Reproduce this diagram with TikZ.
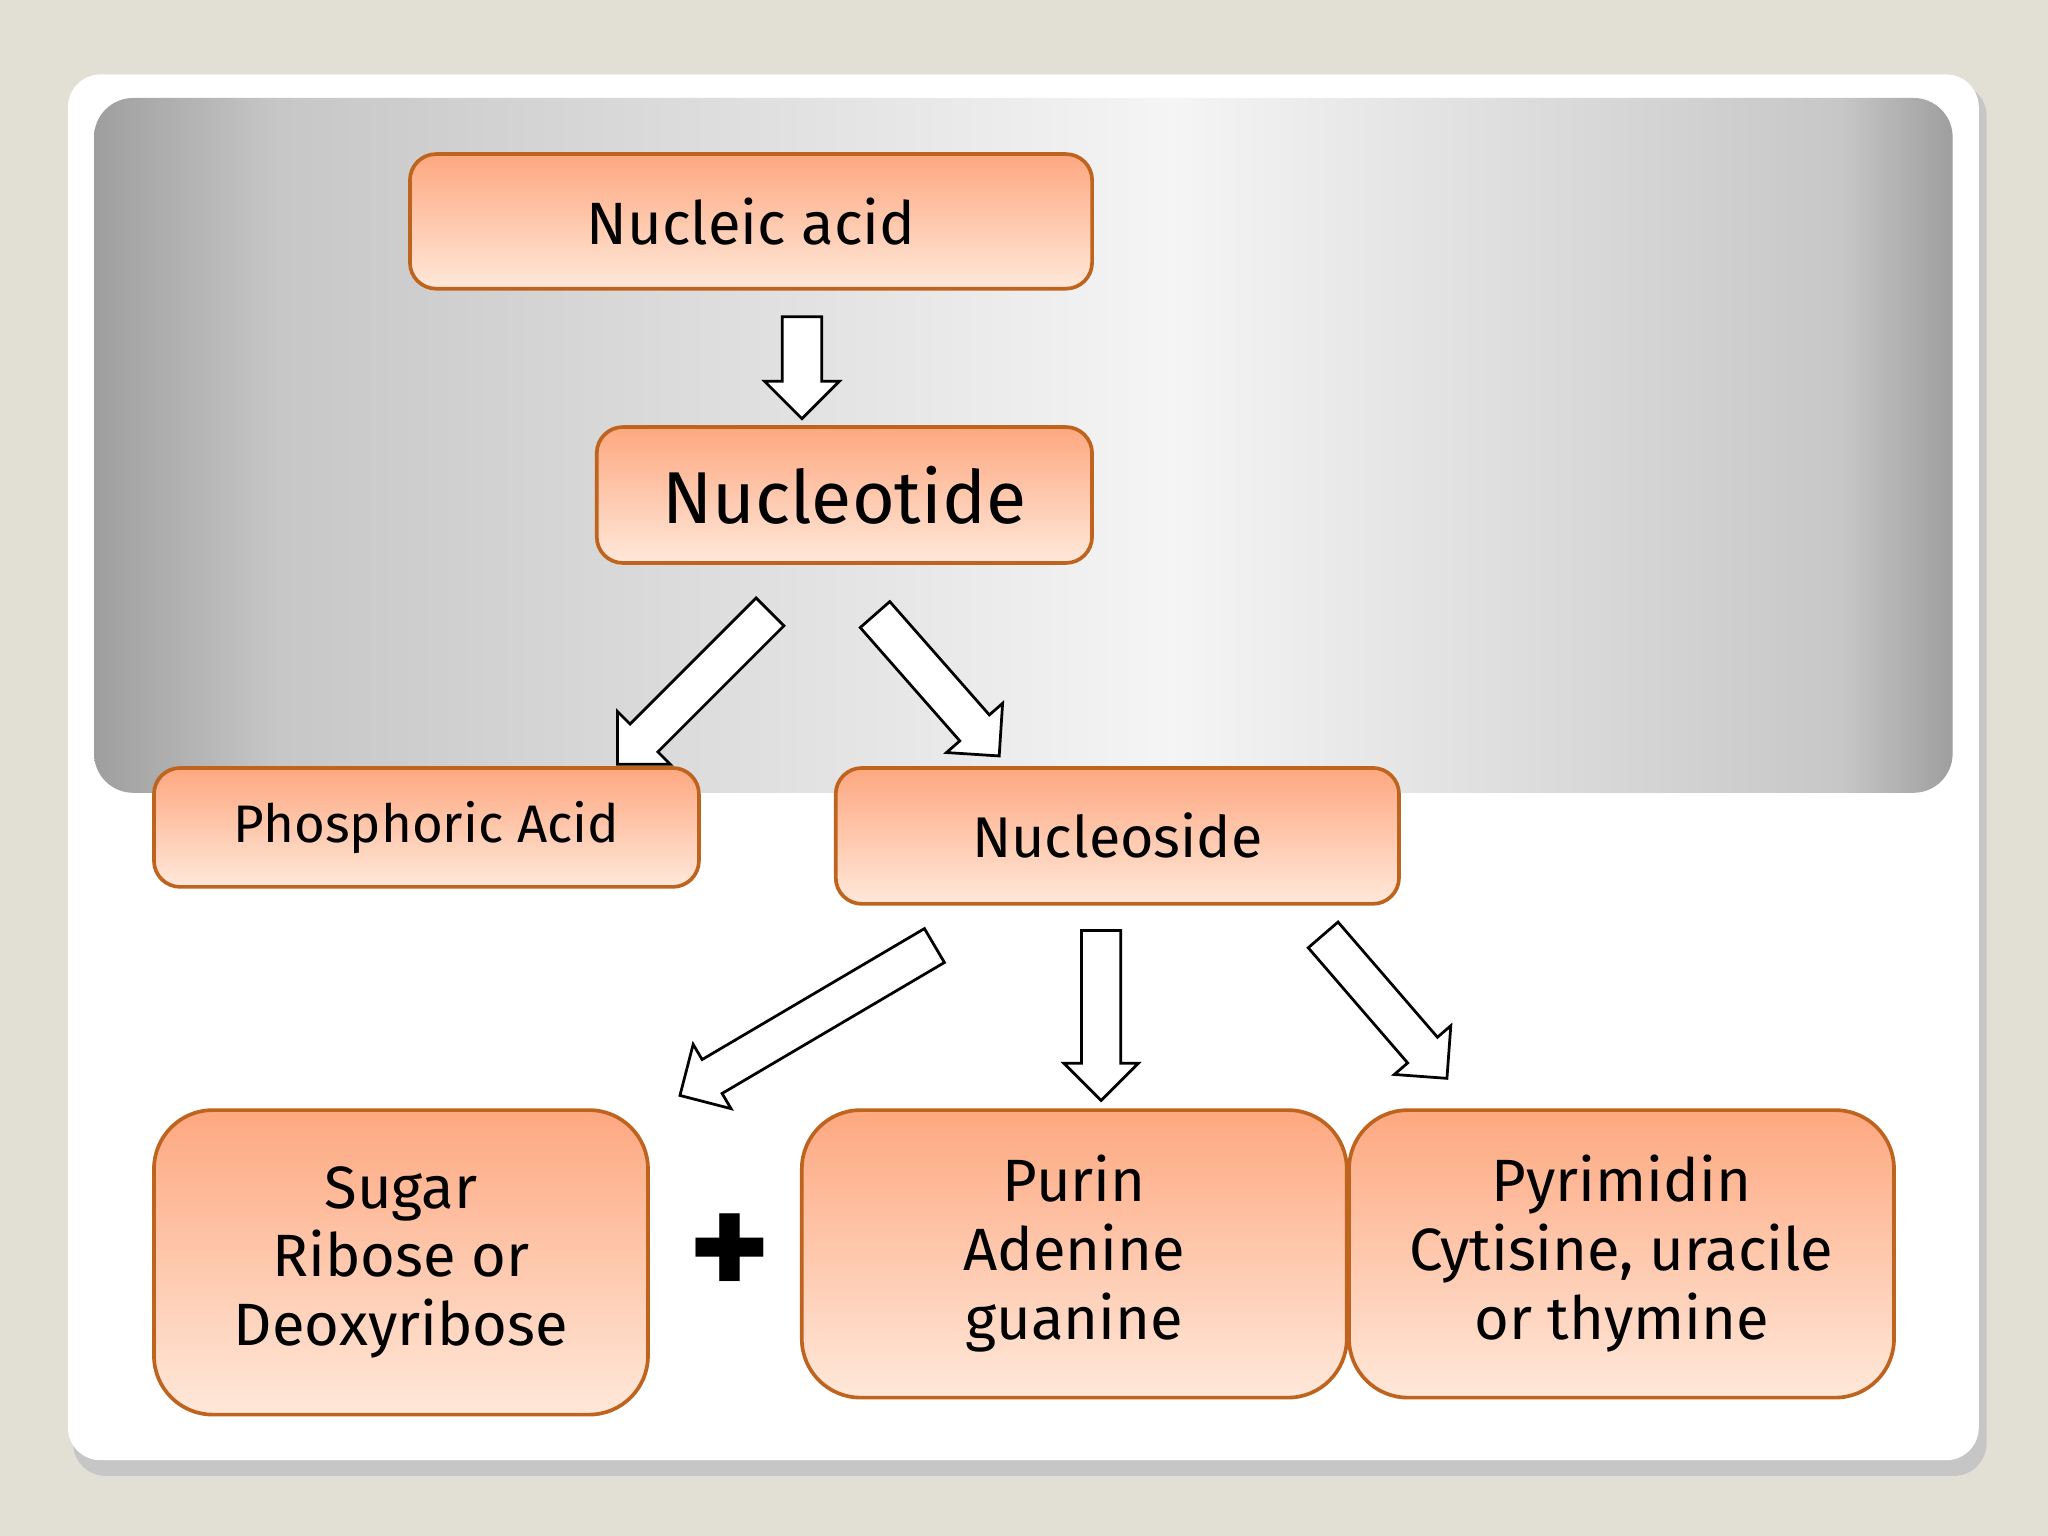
\documentclass[tikz,border=0pt]{standalone}
\usepackage{fontspec}
\setmainfont{Fira Sans}
\usetikzlibrary{shapes.arrows}
\definecolor{page}{RGB}{226,223,212}
\definecolor{boxtop}{RGB}{253,168,128}
\definecolor{boxbottom}{RGB}{255,232,218}
\definecolor{boxline}{RGB}{190,100,30}
\pgfdeclarehorizontalshading{panel}{100bp}{color(0bp)=(black!38); color(25bp)=(black!38); color(30bp)=(black!22); color(54bp)=(black!4); color(72bp)=(black!22); color(75bp)=(black!38); color(100bp)=(black!38)}
\tikzset{
  box/.style={draw=boxline, thick, rounded corners=0.2cm, top color=boxtop, bottom color=boxbottom,
    align=center, inner sep=0pt, font=\fontsize{13}{16}\selectfont},
  bigbox/.style={box, rounded corners=0.45cm, font=\fontsize{13}{15}\selectfont},
  blockarrow/.style={single arrow, draw=black, fill=white, semithick, inner xsep=0pt, inner ysep=0.14cm,
    single arrow head extend=0.135cm, single arrow head indent=0pt}
}
\begin{document}
\begin{tikzpicture}[x=0.01cm,y=0.01cm]
        \useasboundingbox (0,0) rectangle (1568,-1176);
        \fill[page] (0,0) rectangle (1568,-1176);
        \fill[gray!45, rounded corners=0.25cm] (56,-64) rectangle (1521,-1130);
        \fill[white, rounded corners=0.25cm] (52,-57) rectangle (1515,-1118);
        \shade[rounded corners=0.3cm, shading=panel] (72,-75) rectangle (1495,-607);

        % boxes
        \node[box, minimum width=5.22cm, minimum height=1.03cm] (acid) at (575,-169.5) {Nucleic acid};
        \node[box, minimum width=3.79cm, minimum height=1.04cm, font=\fontsize{16}{20}\selectfont] (tide) at (646.5,-379) {Nucleotide};
        \node[box, minimum width=4.17cm, minimum height=0.91cm, font=\fontsize{11.5}{14}\selectfont] (phos) at (326.5,-633.5) {Phosphoric Acid};
        \node[box, minimum width=4.31cm, minimum height=1.04cm, font=\fontsize{12.5}{15}\selectfont] (side) at (855.5,-640) {Nucleoside};
        \node[bigbox, minimum width=3.78cm, minimum height=2.33cm] (sugar) at (307,-966.5) {Sugar\\Ribose or\\Deoxyribose};
        \node[bigbox, minimum width=4.17cm, minimum height=2.2cm] (purin) at (822.5,-960) {Purin\\Adenine\\guanine};
        \node[bigbox, minimum width=4.17cm, minimum height=2.2cm] (pyri) at (1241.5,-960) {Pyrimidin\\Cytisine, uracile\\or thymine};
        \node[font=\fontsize{34}{34}\selectfont\bfseries] (plus) at (559,-962) {+};

        % block arrows
        \node[blockarrow, minimum height=0.78cm, rotate=-90] (a1) at (614,-274) {};
        \node[blockarrow, minimum height=1.65cm, rotate=225] (a2) at (536.5,-521.5) {};
        \node[blockarrow, minimum height=1.44cm, rotate=-48.7] (a3) at (712.5,-519) {};
        \node[blockarrow, minimum height=2.26cm, rotate=210.5] (a4) at (624.5,-777.5) {};
        \node[blockarrow, minimum height=1.30cm, rotate=-90] (a5) at (843,-770) {};
        \node[blockarrow, minimum height=1.45cm, rotate=-49.2] (a6) at (1055.5,-765) {};
    \end{tikzpicture}
\end{document}
